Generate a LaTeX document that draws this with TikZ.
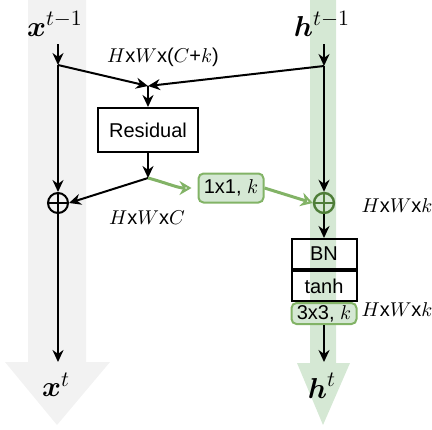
\documentclass[tikz,border=0pt]{standalone}
\usepackage{amsmath}
\usepackage{fontspec}
\setmainfont{Liberation Sans}
\usetikzlibrary{arrows.meta,positioning,calc}
\definecolor{gband}{HTML}{D5E8D4}
\definecolor{gline}{HTML}{82B366}
\definecolor{gdark}{HTML}{4E7D38}
\definecolor{xband}{HTML}{F2F2F2}
\tikzset{
  flow/.style={line width=1pt,-{Stealth[length=6pt,width=5.5pt]}},
  skip/.style={draw=gline,line width=1.5pt,-{Stealth[open,length=6pt,width=7pt]}},
  opbox/.style={draw,line width=1pt,minimum width=32.5pt,minimum height=15pt,inner sep=0pt,font=\fontsize{10}{12}\selectfont},
  convbox/.style={draw=gline,fill=gband,rounded corners=2.5pt,line width=1pt,minimum width=32.5pt,inner sep=0pt,font=\fontsize{10}{12}\selectfont},
  addop/.style={circle,draw,line width=1pt,minimum size=10pt,inner sep=0pt,
    path picture={\draw[line width=1pt] (path picture bounding box.north) -- (path picture bounding box.south)
      (path picture bounding box.west) -- (path picture bounding box.east);}},
  dim/.style={font=\fontsize{10}{12}\selectfont,inner sep=0pt},
  state/.style={font=\fontsize{15}{18}\selectfont,inner sep=0pt}
}
\begin{document}
\begin{tikzpicture}[x=0.5pt,y=-0.5pt]
  \useasboundingbox (0,0) rectangle (432,429);

  % the two state streams
  \fill[xband] (28,0) -- (86,0) -- (86,362) -- (110,362) -- (57,425) -- (5,362) -- (28,362) -- cycle;
  \fill[gband] (310,0) -- (336,0) -- (336,363) -- (350,363) -- (323,425) -- (297,363) -- (310,363) -- cycle;

  \node[state] (xprev) at (55,24) {$\boldsymbol{x}^{t-1}$};
  \node[state] (hprev) at (322,24) {$\boldsymbol{h}^{t-1}$};
  \node[state] (xnext) at (56,385) {$\boldsymbol{x}^{t}$};
  \node[state] (hnext) at (322,386) {$\boldsymbol{h}^{t}$};

  \coordinate (xin) at (58,44);
  \coordinate (xs) at (58,65);
  \coordinate (hin) at (324,44);
  \coordinate (hs) at (324,66);
  \coordinate (mrg) at (148,86);
  \coordinate (rs) at (148,178);
  \coordinate (xout) at (58,362);
  \coordinate (hout) at (324,362);

  \node[opbox,minimum width=50pt,minimum height=22pt] (res) at (148,130) {Residual};
  \node[convbox,minimum height=14.5pt] (c1) at (231,188) {1x1, $k$};
  \node[addop] (ox) at (58,203) {};
  \node[addop,draw=gdark,line width=1.2pt] (oh) at (324,203) {};

  \node[opbox] (bn) at (324,254) {BN};
  \node[opbox,below=0pt of bn] (act) {tanh};
  \node[convbox,minimum height=10.5pt,below=0pt of act] (c3) {3x3, $k$};

  \draw[flow] (xin) -- (xs);
  \draw[flow] (hin) -- (hs);
  \draw[flow] (xs) -- (mrg);
  \draw[flow] (hs) -- (mrg);
  \draw[flow] (mrg) -- (res.north);
  \draw[flow] (res.south) -- (rs);
  \draw[flow] (rs) -- (ox.east);
  \draw[flow] (xs) -- (ox.north);
  \draw[flow] (ox.south) -- (xout);
  \draw[flow] (hs) -- (oh.north);
  \draw[flow] (oh.south) -- (bn.north);
  \draw[flow] (c3.south) -- (hout);

  \draw[skip,shorten >=3pt] (rs) to[out=-15,in=180] (c1.west);
  \draw[skip] (c1.east) -- (oh.west);

  \node[dim] (dimin) at (163,57) {$H$x$W$x($C$+$k$)};
  \node[dim] (dimres) at (147,218) {$H$x$W$x$C$};
  \node[dim] (dimadd) at (397,206) {$H$x$W$x$k$};
  \node[dim] (dimout) at (397,310) {$H$x$W$x$k$};
\end{tikzpicture}
\end{document}
